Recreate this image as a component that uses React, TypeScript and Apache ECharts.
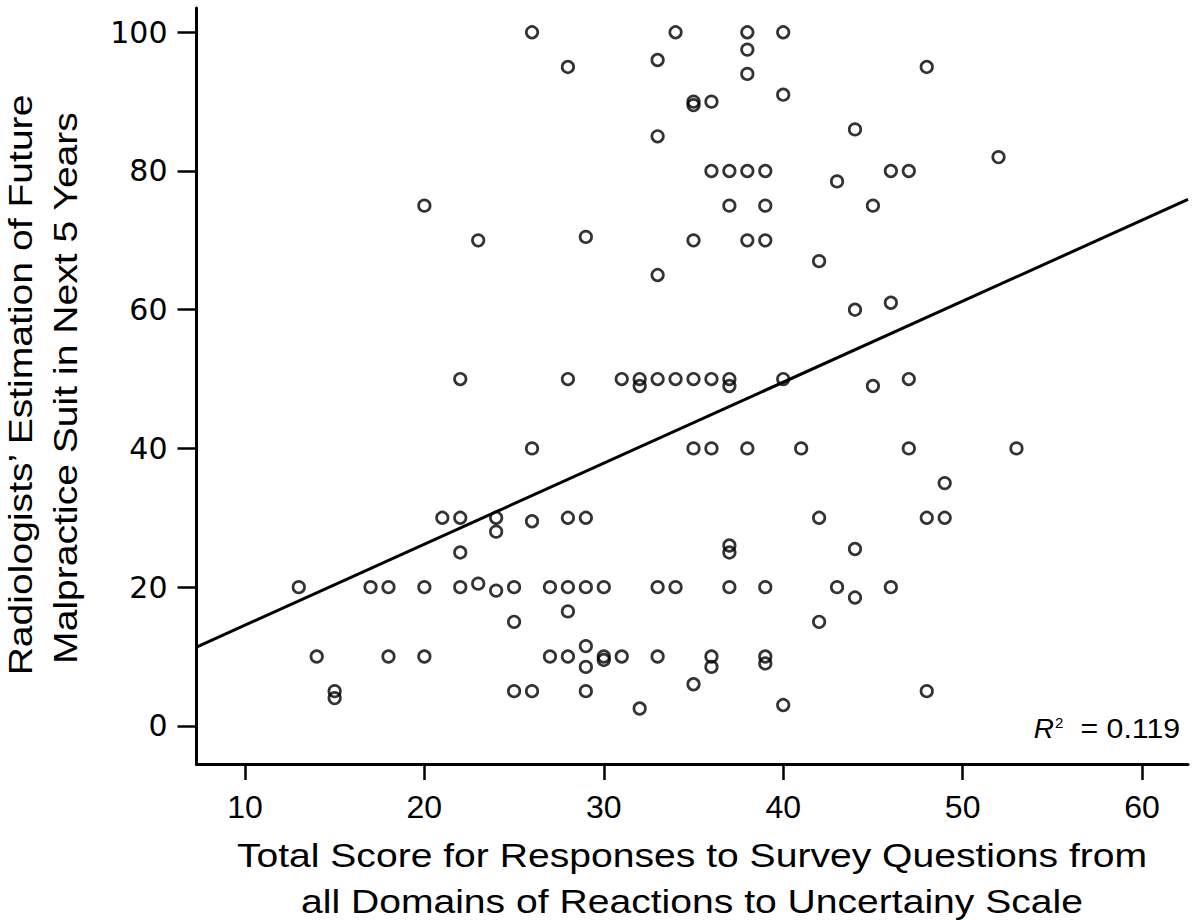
import React, { useEffect, useRef } from "react";
import * as echarts from "echarts";

// Scatter data: total RUS score (x) vs estimated probability of a malpractice suit (y)
const xValues = [
  26, 34, 38, 40, 38, 28, 33, 38, 48, 40, 35, 35, 36, 33, 44, 52, 36, 37, 38, 39,
  46, 47, 43, 20, 37, 39, 45, 23, 29, 35, 38, 39, 42, 33, 46, 44, 22, 28, 31, 32,
  32, 33, 34, 35, 36, 37, 37, 40, 45, 47, 26, 35, 36, 38, 41, 47, 53, 49, 21, 22,
  24, 24, 26, 28, 29, 42, 48, 49, 22, 37, 37, 44, 13, 17, 18, 20, 22, 23, 24, 25,
  27, 28, 29, 30, 33, 34, 37, 39, 43, 44, 46, 28, 25, 42, 14, 18, 20, 27, 28, 29,
  29, 30, 30, 31, 33, 36, 36, 39, 39, 15, 15, 25, 26, 29, 35, 48, 32, 40,
];
const yValues = [
  100, 100, 100, 100, 97.5, 95, 96, 94, 95, 91, 90, 89.5, 90, 85, 86, 82, 80, 80, 80, 80,
  80, 80, 78.5, 75, 75, 75, 75, 70, 70.5, 70, 70, 70, 67, 65, 61, 60, 50, 50, 50, 50,
  49, 50, 50, 50, 50, 50, 49, 50, 49, 50, 40, 40, 40, 40, 40, 40, 40, 35, 30, 30,
  30, 28, 29.5, 30, 30, 30, 30, 30, 25, 26, 25, 25.5, 20, 20, 20, 20, 20, 20.5, 19.5, 20,
  20, 20, 20, 20, 20, 20, 20, 20, 20, 18.5, 20, 16.5, 15, 15, 10, 10, 10, 10, 10, 11.5,
  8.5, 10, 9.5, 10, 10, 10, 8.5, 10, 9, 5, 4, 5, 5, 5, 6, 5, 2.5, 3,
];

// Fitted regression line
const fitIntercept = 2.83;
const fitSlope = 1.168;
const rSquaredLabel = "= 0.119";

// Axes
const xMin = 7.3;
const xMax = 62.56;
const yMin = -5.5;
const yMax = 103.5;
const xTicks = [10, 20, 30, 40, 50, 60];
const yTicks = [0, 20, 40, 60, 80, 100];

const xTitleLines = [
  "Total Score for Responses to Survey Questions from",
  "all Domains of Reactions to Uncertainy Scale",
];
const yTitleLines = [
  "Radiologists\u2019 Estimation of Future",
  "Malpractice Suit in Next 5 Years",
];

export default function App() {
  const ref = useRef<HTMLDivElement>(null);

  useEffect(() => {
    if (!ref.current) return;
    const chart = echarts.init(ref.current, null, { renderer: "svg" });
    const points = xValues.map((x, i) => [x, yValues[i]]);
    const fitLine = [
      [xMin, fitIntercept + fitSlope * xMin],
      [xMax, fitIntercept + fitSlope * xMax],
    ];
    const titleFont = '34px "Liberation Sans", Arial, sans-serif';
    chart.setOption({
      animation: false,
      backgroundColor: "#ffffff",
      grid: { left: 196.5, right: 12, top: 8, bottom: 156, containLabel: false },
      xAxis: {
        type: "value",
        min: xMin,
        max: xMax,
        splitLine: { show: false },
        axisLine: { show: true, onZero: false, lineStyle: { color: "#000", width: 3 } },
        axisTick: {
          show: true,
          length: 16,
          customValues: xTicks,
          lineStyle: { color: "#000", width: 2.5 },
        },
        axisLabel: {
          customValues: xTicks,
          margin: 27,
          color: "#000",
          fontSize: 32,
          fontFamily: '"Liberation Sans", Arial, sans-serif',
        },
      },
      yAxis: {
        type: "value",
        min: yMin,
        max: yMax,
        splitLine: { show: false },
        axisLine: { show: true, onZero: false, lineStyle: { color: "#000", width: 3 } },
        axisTick: {
          show: true,
          length: 19,
          customValues: yTicks,
          lineStyle: { color: "#000", width: 2.5 },
        },
        axisLabel: {
          customValues: yTicks,
          margin: 29,
          color: "#000",
          fontSize: 30,
          fontFamily: '"DejaVu Sans", sans-serif',
        },
      },
      series: [
        {
          type: "scatter",
          data: points,
          symbol: "circle",
          symbolSize: 11.5,
          itemStyle: { color: "rgba(0,0,0,0)", borderColor: "#000", borderWidth: 2.7 },
          emphasis: { disabled: true },
          z: 2,
        },
        {
          type: "line",
          data: fitLine,
          symbol: "none",
          lineStyle: { color: "#000", width: 3 },
          emphasis: { disabled: true },
          z: 3,
        },
      ],
      graphic: [
        {
          type: "text",
          x: 692,
          y: 855,
          scaleX: 1.15,
          style: { text: xTitleLines[0], font: titleFont, fill: "#000", textAlign: "center", textVerticalAlign: "middle" },
        },
        {
          type: "text",
          x: 692,
          y: 901,
          scaleX: 1.15,
          style: { text: xTitleLines[1], font: titleFont, fill: "#000", textAlign: "center", textVerticalAlign: "middle" },
        },
        {
          type: "text",
          x: 20,
          y: 385,
          rotation: Math.PI / 2,
          scaleX: 1.15,
          style: { text: yTitleLines[0], font: titleFont, fill: "#000", textAlign: "center", textVerticalAlign: "middle" },
        },
        {
          type: "text",
          x: 65,
          y: 388,
          rotation: Math.PI / 2,
          scaleX: 1.15,
          style: { text: yTitleLines[1], font: titleFont, fill: "#000", textAlign: "center", textVerticalAlign: "middle" },
        },
        {
          type: "text",
          x: 1054,
          y: 728,
          style: { text: "R", font: 'italic 28px "Liberation Sans", Arial, sans-serif', fill: "#000", textAlign: "right", textVerticalAlign: "middle" },
        },
        {
          type: "text",
          x: 1055,
          y: 722,
          style: { text: "2", font: '15px "Liberation Sans", Arial, sans-serif', fill: "#000", textAlign: "left", textVerticalAlign: "middle" },
        },
        {
          type: "text",
          x: 1180,
          y: 728,
          scaleX: 1.08,
          style: { text: rSquaredLabel, font: '28px "Liberation Sans", Arial, sans-serif', fill: "#000", textAlign: "right", textVerticalAlign: "middle" },
        },
      ],
    });
    return () => chart.dispose();
  }, []);

  return (
    <div
      ref={ref}
      style={{ position: "absolute", left: 0, top: 0, width: 1200, height: 920, background: "#fff" }}
    />
  );
}
